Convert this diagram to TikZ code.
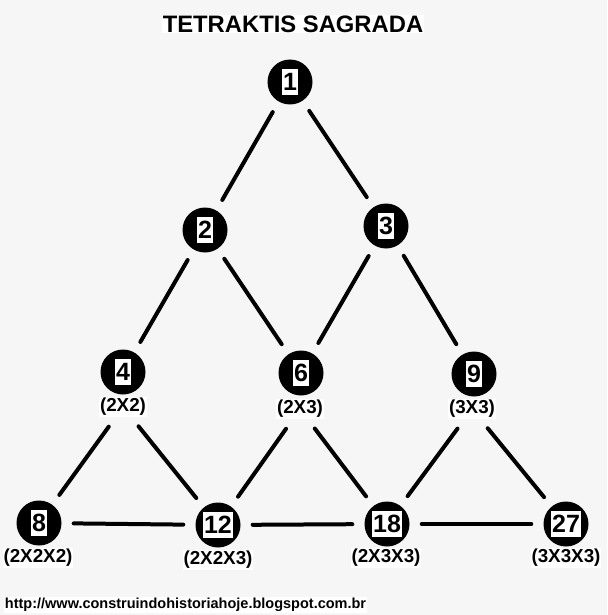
\documentclass[tikz,border=0pt]{standalone}
\usepackage{fontspec}
\setmainfont{Liberation Sans}

\newcommand{\numbox}[1]{{\setlength{\fboxsep}{1.5pt}\colorbox{white}{\rule[-3pt]{0pt}{23pt}#1}}}

\begin{document}
\begin{tikzpicture}[x=1pt,y=-1pt,
    num/.style={shape=circle,fill=black,minimum size=45pt,inner sep=0pt,font=\fontsize{25}{25}\selectfont\bfseries},
    fact/.style={fill=white,inner sep=1pt,font=\fontsize{18.8}{20}\selectfont\bfseries},
    link/.style={line width=4pt,line cap=round,shorten <=12pt,shorten >=12pt}]

    \fill[gray!7] (0,0) rectangle (607,615);

    \node[fill=white,inner sep=1pt,font=\fontsize{23.8}{25}\selectfont\bfseries] (title) at (293,24) {TETRAKTIS SAGRADA};

    \node[num] (n1) at (290,82) {\numbox{1}};
    \node[num] (n2) at (205,230) {\numbox{2}};
    \node[num] (n3) at (386,226) {\numbox{3}};
    \node[num] (n4) at (123,372) {\numbox{4}};
    \node[num] (n6) at (301,373) {\numbox{6}};
    \node[num] (n9) at (474,374) {\numbox{9}};
    \node[num] (n8) at (39,523) {\numbox{8}};
    \node[num] (n12) at (218,525) {\numbox{12}};
    \node[num] (n18) at (387,524) {\numbox{18}};
    \node[num] (n27) at (566,524) {\numbox{27}};

    \node[fact] (f4) at (123,407) {(2X2)};
    \node[fact] (f6) at (300,409) {(2X3)};
    \node[fact] (f9) at (472,409) {(3X3)};
    \node[fact] (f8) at (38,558) {(2X2X2)};
    \node[fact] (f12) at (218,560) {(2X2X3)};
    \node[fact] (f18) at (386,558) {(2X3X3)};
    \node[fact] (f27) at (566,558) {(3X3X3)};

    \node[fill=white,inner sep=1pt,font=\fontsize{14.5}{15}\selectfont\bfseries] (url) at (185.5,605) {http://www.construindohistoriahoje.blogspot.com.br};

    \path [link] (n1) edge (n2);
    \path [link] (n1) edge (n3);
    \path [link] (n2) edge (n4);
    \path [link] (n2) edge (n6);
    \path [link] (n3) edge (n6);
    \path [link] (n3) edge (n9);
    \path [link] (f4) edge (n8);
    \path [link] (f4) edge (n12);
    \path [link] (f6) edge (n12);
    \path [link] (f6) edge (n18);
    \path [link] (f9) edge (n18);
    \path [link] (f9) edge (n27);
    \path [link] (n8) edge (n12);
    \path [link] (n12) edge (n18);
    \path [link] (n18) edge (n27);
\end{tikzpicture}
\end{document}
